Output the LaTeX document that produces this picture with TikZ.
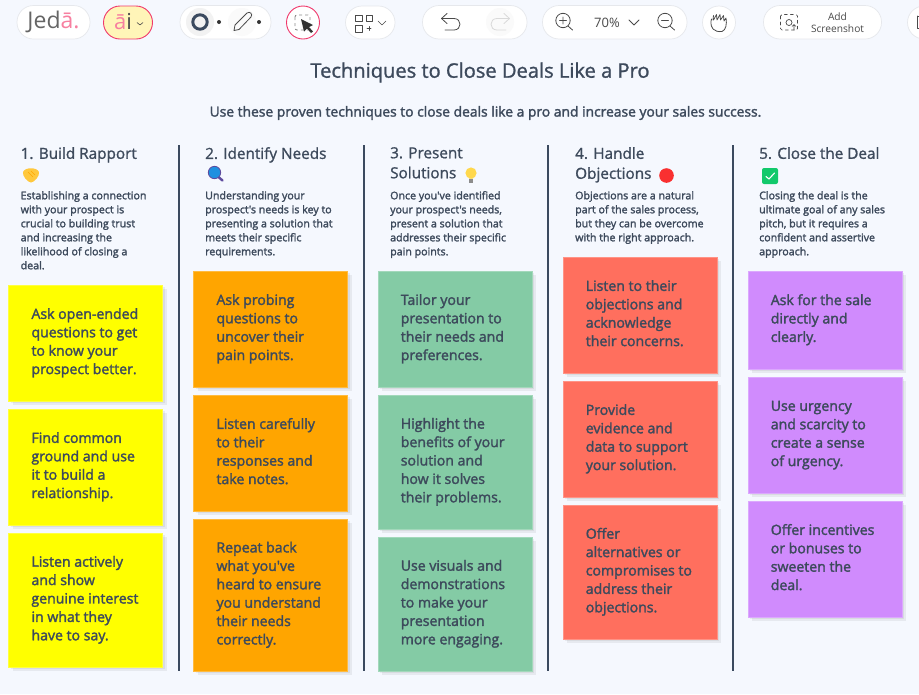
\documentclass[tikz,border=0pt]{standalone}
\usepackage{fontspec}
\setmainfont{Open Sans}
\usetikzlibrary{shadows}
\definecolor{bgc}{HTML}{F5F8FE}
\definecolor{ink}{HTML}{3D4A5C}
\definecolor{lineC}{HTML}{3B4A5F}
\definecolor{yel}{HTML}{FFFF00}
\definecolor{ora}{HTML}{FFA500}
\definecolor{gre}{HTML}{84CBA5}
\definecolor{red1}{HTML}{FF6F5E}
\definecolor{pur}{HTML}{D08BFD}
\definecolor{pink}{HTML}{F0386B}
\definecolor{pinkL}{HTML}{F77FA0}
\definecolor{pillB}{HTML}{E6E8EC}
\definecolor{tool}{HTML}{4A4A4A}
\definecolor{aiY}{HTML}{FFF5B8}
\definecolor{emoG}{HTML}{12C96B}
\definecolor{emoB}{HTML}{1E90E0}
\definecolor{emoP}{HTML}{5E4B9E}
\definecolor{emoR}{HTML}{F93030}
\definecolor{emoY}{HTML}{FFC83D}
\definecolor{emoL}{HTML}{FFD84D}
\newfontfamily\stickyfont[FakeBold=2]{Open Sans}
\newfontfamily\descfont[FakeBold=2]{Open Sans}
\newfontfamily\headfont[FakeBold=1.2]{Open Sans}
\newcommand{\stk}[1]{\makebox[154pt][l]{\hspace*{23pt}\stickyfont\fontsize{14.1}{18.4}\selectfont\raisebox{-2.8pt}{\begin{tabular}{@{}l@{}}#1\end{tabular}}}}
\tikzset{
  sticky/.style={anchor=north west,inner sep=0pt,minimum width=154pt,text=ink,xshift=-.5pt,yshift=.5pt,
    fill=#1,draw=#1!75!white,line width=.6pt,
    general shadow={fill=black,opacity=.06,shadow xshift=2pt,shadow yshift=-2pt},
    general shadow={fill=black,opacity=.06,shadow xshift=4pt,shadow yshift=-4pt}},
  heading/.style={anchor=north west,inner sep=0pt,text=ink,align=left,font=\headfont\fontsize{15.3}{20}\selectfont},
  desc/.style={anchor=north west,inner sep=0pt,text=ink,align=left,font=\descfont\fontsize{10.65}{14}\selectfont},
  divider/.style={draw=lineC,line width=1.8pt},
  pill/.style={draw=pillB,fill=white,line width=.7pt,rounded corners=16.5pt},
  circ/.style={draw=pillB,fill=white,line width=.7pt},
  ic/.style={draw=tool,line width=.8pt,line cap=round,line join=round},
}
\begin{document}
\begin{tikzpicture}[x=1pt,y=-1pt]
\useasboundingbox (0,0) rectangle (919,694);
\fill[bgc] (0,0) rectangle (919,694);

% toolbar
\draw[pill] (17,5.5) rectangle (90,39);
\node[anchor=center,inner sep=0pt,font=\fontsize{23}{23}\selectfont] (logo) at (53.5,22) {\textcolor{tool!85!white}{Jed}\textcolor{pinkL}{ā.}};
\draw[draw=pink,fill=aiY,line width=.9pt,rounded corners=16.5pt] (103.5,6) rectangle (152.5,39);
\node[anchor=center,inner sep=0pt,font=\fontsize{22}{22}\selectfont] (ai) at (123,22) {\textcolor{pinkL}{ā}\textcolor{tool}{i}};
\draw[ic,line width=.6pt] (137,22.5) -- (140,25) -- (143,22.5);

\draw[pill] (180,5.5) rectangle (271,39);
\fill[black!5] (200,22) circle (14);
\draw[draw=lineC,line width=3pt] (200,22) circle (7.2);
\fill[black!80] (219,22) circle (2);
\fill[black!2] (242,22) circle (14);
\draw[ic] (234,30.5) -- (235,25) -- (247,13) .. controls (250,11) and (253,14) .. (251,17) -- (239,29.5) -- cycle;
\fill[black!80] (259,22) circle (2);

\draw[draw=pink,fill=white,line width=.9pt] (303,22.5) circle (16.5);
\draw[draw=black!45,dashed,line width=.9pt,rounded corners=2pt] (295,15) rectangle (310,30);
\fill[black!80] (301,19) -- (313,25) -- (309,27) -- (313,31.5) -- (311,33) -- (307,28.5) -- (304,31.5) -- cycle;

\draw[pill] (345.5,6) rectangle (395,39);
\draw[ic] (355.5,15) rectangle (362,21.5) (366,15) rectangle (372.5,21.5) (355.5,25.5) rectangle (362,32);
\draw[ic,line width=.6pt] (367,28.5) -- (371,28.5) (369,26.5) -- (369,30.5);
\draw[ic,line width=.6pt] (378,21) -- (382,25) -- (386,21);

\draw[pill] (422.5,5.5) rectangle (527,39);
\draw[ic] (447,13.5) -- (441.5,18.5) -- (447,23.5);
\draw[ic] (441.5,18.5) -- (454,18.5) .. controls (462,18.5) and (462,30) .. (454,30) -- (445,30);
\fill[black!2] (500,22) circle (14);
\draw[draw=black!15,line width=.8pt,line cap=round,line join=round] (504,13.5) -- (509.5,18.5) -- (504,23.5);
\draw[draw=black!15,line width=.8pt,line cap=round] (509.5,18.5) -- (497,18.5) .. controls (489,18.5) and (489,30) .. (497,30) -- (506,30);

\draw[pill] (542.5,5.5) rectangle (687,39);
\draw[ic] (563,20.5) circle (7.2) (568,26) -- (572.5,30) (559.5,20.5) -- (566.5,20.5) (563,17) -- (563,24);
\node[anchor=center,inner sep=0pt,text=tool,font=\fontsize{13}{13}\selectfont] (zoomv) at (607,22.5) {70\%};
\draw[ic] (629,20) -- (634,25) -- (639,20);
\draw[ic] (665,20.5) circle (7.2) (670,26) -- (674.5,30) (661.5,20.5) -- (668.5,20.5);

\draw[circ] (719,22.5) circle (16.5);
\draw[ic] (713,29) .. controls (710,25) and (711,21) .. (711.5,19) (713,20) -- (713.5,15.5) (713.5,20) -- (716.5,14.5) -- (717,20) (717,20) -- (720,14.5) -- (720.5,20) (720.5,20) -- (723.5,15.5) -- (724,21) -- (726,18) .. controls (727,24) and (726,30) .. (722,31.5) .. controls (718,32) and (715,31) .. (713,29);

\draw[pill] (763.5,5.5) rectangle (881.5,39);
\draw[ic,dashed,line width=.7pt,rounded corners=1.5pt] (780.5,14.5) rectangle (797.5,30);
\draw[ic,line width=.7pt] (789,22.5) circle (3);
\draw[ic,line width=.6pt] (794,30) -- (794,24.5) (792,26.5) -- (794,24.5) -- (796,26.5);
\node[anchor=center,inner sep=0pt,text=tool,align=center,font=\fontsize{10.2}{12}\selectfont] (addsc) at (837.5,22.5) {Add\\Screenshot};

\draw[pill] (907.5,6) rectangle (950,39);
\draw[ic,line width=.6pt] (917.5,16) -- (917.5,28) (917.5,16) -- (925,16) (917.5,28) -- (925,28) (919.5,20) -- (925,20) (919.5,24) -- (925,24);

% title
\node[anchor=center,inner sep=0pt,text=ink,font=\headfont\fontsize{20.1}{24}\selectfont] (title) at (480,72.5) {Techniques to Close Deals Like a Pro};
\node[anchor=center,inner sep=0pt,text=ink,font=\descfont\fontsize{13.85}{16}\selectfont] (sub) at (485.5,113) {Use these proven techniques to close deals like a pro and increase your sales success.};

% dividers
\coordinate (d1a) at (179,145); \coordinate (d1b) at (179,671);
\coordinate (d2a) at (364,145); \coordinate (d2b) at (364,671);
\coordinate (d3a) at (548,145); \coordinate (d3b) at (548,671);
\coordinate (d4a) at (733,145); \coordinate (d4b) at (733,671);
\draw[divider] (d1a) -- (d1b);
\draw[divider] (d2a) -- (d2b);
\draw[divider] (d3a) -- (d3b);
\draw[divider] (d4a) -- (d4b);

% column 1
\node[heading] (h1) at (20.5,147) {1. Build Rapport};
\node[desc] (t1) at (20.5,191) {Establishing a connection\\with your prospect is\\crucial to building trust\\and increasing the\\likelihood of closing a\\deal.};
\node[sticky=yel,minimum height=116pt] (a1) at (8.7,285) {\stk{Ask open-ended\\questions to get\\to know your\\prospect better.}};
\node[sticky=yel,minimum height=116pt] (a2) at (8.7,409) {\stk{Find common\\ground and use\\it to build a\\relationship.}};
\node[sticky=yel,minimum height=134pt] (a3) at (8.7,533) {\stk{Listen actively\\and show\\genuine interest\\in what they\\have to say.}};
% column 2
\node[heading] (h2) at (205,147) {2. Identify Needs};
\node[desc] (t2) at (205,191) {Understanding your\\prospect's needs is key to\\presenting a solution that\\meets their specific\\requirements.};
\node[sticky=ora,minimum height=116pt] (b1) at (193.7,271) {\stk{Ask probing\\questions to\\uncover their\\pain points.}};
\node[sticky=ora,minimum height=116pt] (b2) at (193.7,395) {\stk{Listen carefully\\to their\\responses and\\take notes.}};
\node[sticky=ora,minimum height=152pt] (b3) at (193.7,519) {\stk{Repeat back\\what you've\\heard to ensure\\you understand\\their needs\\correctly.}};
% column 3
\node[heading] (h3) at (390,147) {3. Present\\Solutions};
\node[desc] (t3) at (390,191) {Once you've identified\\your prospect's needs,\\present a solution that\\addresses their specific\\pain points.};
\node[sticky=gre,minimum height=116pt] (c1) at (378,271) {\stk{Tailor your\\presentation to\\their needs and\\preferences.}};
\node[sticky=gre,minimum height=134pt] (c2) at (378,395) {\stk{Highlight the\\benefits of your\\solution and\\how it solves\\their problems.}};
\node[sticky=gre,minimum height=134pt] (c3) at (378,537) {\stk{Use visuals and\\demonstrations\\to make your\\presentation\\more engaging.}};
% column 4
\node[heading] (h4) at (575,147) {4. Handle\\Objections};
\node[desc] (t4) at (575,191) {Objections are a natural\\part of the sales process,\\but they can be overcome\\with the right approach.};
\node[sticky=red1,minimum height=116pt] (e1) at (563,257) {\stk{Listen to their\\objections and\\acknowledge\\their concerns.}};
\node[sticky=red1,minimum height=116pt] (e2) at (563,381) {\stk{Provide\\evidence and\\data to support\\your solution.}};
\node[sticky=red1,minimum height=134pt] (e3) at (563,505) {\stk{Offer\\alternatives or\\compromises to\\address their\\objections.}};
% column 5
\node[heading] (h5) at (759,147) {5. Close the Deal};
\node[desc] (t5) at (759,191) {Closing the deal is the\\ultimate goal of any sales\\pitch, but it requires a\\confident and assertive\\approach.};
\node[sticky=pur,minimum height=98pt] (f1) at (748,271) {\stk{Ask for the sale\\directly and\\clearly.}};
\node[sticky=pur,minimum height=116pt] (f2) at (748,377) {\stk{Use urgency\\and scarcity to\\create a sense\\of urgency.}};
\node[sticky=pur,minimum height=116pt] (f3) at (748,501) {\stk{Offer incentives\\or bonuses to\\sweeten the\\deal.}};

% emoji drawn as shapes
\fill[emoY] (23,172) .. controls (25,167) and (37,167) .. (39,172) .. controls (40,176) and (34,182.5) .. (31,182.5) .. controls (28,182.5) and (22,176) .. (23,172) -- cycle;
\draw[orange!70!yellow,line width=.4pt] (28,172) -- (33,177) (31,171) -- (35,175);
\draw[draw=emoP,line width=2.4pt,line cap=round] (218.5,177) -- (222.5,180.5);
\fill[emoB] (214.5,172.5) circle (6.2);
\draw[draw=emoP,line width=.8pt] (214.5,172.5) circle (6.2);
\fill[emoL] (471,173) circle (5.6);
\fill[emoL] (468,175.5) -- (474,175.5) -- (473,178.5) -- (469,178.5) -- cycle;
\fill[black!45] (469,178.5) rectangle (473,183);
\fill[emoR] (666.5,175.5) circle (7.3);
\fill[emoG,rounded corners=2pt] (762,168) rectangle (778,184);
\draw[draw=white,line width=1.1pt,line cap=round,line join=round] (766,176.5) -- (769,179) -- (774.5,173);
\end{tikzpicture}
\end{document}
